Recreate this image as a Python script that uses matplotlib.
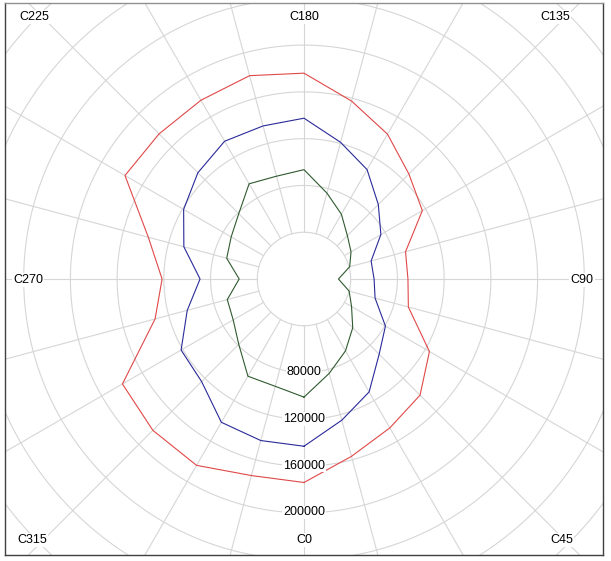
import numpy as np
import matplotlib
matplotlib.use("Agg")
import matplotlib.pyplot as plt

# C-plane angles (degrees) and luminous intensity for three curves
angles = [0, 15, 30, 45, 60, 75, 90, 105, 120, 135, 150, 165,
          180, 195, 210, 225, 240, 255, 270, 285, 300, 315, 330, 345]
red_vals = [174000, 157000, 147000, 140500, 124000, 92500, 89000, 90000,
            117000, 127000, 143000, 157500, 176000, 180000, 176500, 175500,
            177000, 138000, 121500, 132000, 179500, 183000, 184000, 174000]
blue_vals = [143000, 125000, 111500, 91000, 80500, 63000, 60000, 59500,
             76000, 90000, 108000, 121000, 137500, 135500, 136000, 128500,
             119000, 106500, 89000, 103500, 121500, 124000, 141500, 143000]
green_vals = [101000, 83500, 71000, 59000, 47000, 40000, 29500, 40500,
              46500, 52500, 64000, 76000, 93500, 91000, 94000, 79000,
              72000, 68500, 55500, 68000, 70000, 79000, 96000, 95000]

ring_vals = [40000, 80000, 120000, 160000, 200000, 240000, 280000, 320000, 360000]
ring_labels = ["80000", "120000", "160000", "200000"]
plane_labels = ["C0", "C45", "C90", "C135", "C180", "C225", "C270", "C315"]

GRID = "#d6d6d6"

fig = plt.figure(figsize=(6.11, 5.61), dpi=100)
ax = fig.add_axes([5 / 611, 6 / 561, 598 / 611, 552 / 561])
ax.set_xlim(-256000, 256000)
ax.set_ylim(-236000, 236000)
ax.set_xticks([])
ax.set_yticks([])
for s in ax.spines.values():
    s.set_color("#404040")
    s.set_linewidth(1.0)
ax.spines["top"].set_color("#909090")


def to_xy(deg, r):
    t = np.radians(np.asarray(deg, dtype=float))
    r = np.asarray(r, dtype=float)
    # C0 at the bottom, C90 to the right
    return r * np.sin(t), -r * np.cos(t)


# rings
t = np.linspace(0, 360, 721)
for rv in ring_vals:
    x, y = to_xy(t, np.full_like(t, rv))
    ax.plot(x, y, color=GRID, lw=0.8, zorder=1)

# spokes every 15 degrees, starting at the first ring
for a in range(0, 360, 15):
    x, y = to_xy([a, a], [ring_vals[0], 400000])
    ax.plot(x, y, color=GRID, lw=0.8, zorder=1)

# curves
for vals, col in [(red_vals, "#e04848"), (blue_vals, "#2a2a9a"), (green_vals, "#2f5a2f")]:
    x, y = to_xy(angles + [angles[0]], vals + [vals[0]])
    ax.plot(x, y, color=col, lw=0.8, zorder=2)

# radial value labels below the centre
for lab in ring_labels:
    v = float(lab)
    ax.text(0, -v + 500, lab, ha="center", va="center", fontsize=9,
            family="Liberation Sans", zorder=3,
            bbox=dict(facecolor="white", edgecolor="none", pad=0.5))

# plane labels
pos = {"C0": (0.5, 0.027), "C45": (0.931, 0.027), "C90": (0.965, 0.498),
       "C135": (0.92, 0.975), "C180": (0.5, 0.975), "C225": (0.0485, 0.975),
       "C270": (0.0385, 0.498), "C315": (0.045, 0.027)}
for lab in plane_labels:
    px, py = pos[lab]
    ax.text(px, py, lab, transform=ax.transAxes, ha="center", va="center",
            fontsize=9, family="Liberation Sans", zorder=3,
            bbox=dict(facecolor="white", edgecolor="none", pad=0.8))

fig.savefig("out.png", dpi=100)
